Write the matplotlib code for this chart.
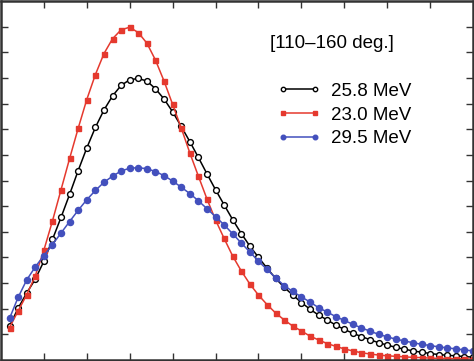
import matplotlib
matplotlib.use("Agg")
import matplotlib.pyplot as plt

plt.rcParams['font.family'] = ['Liberation Sans', 'DejaVu Sans']

# -----------------------
# data (arbitrary units, one y unit = one tick step)
# -----------------------
x = [0.2, 0.4, 0.6, 0.8, 1.0, 1.2, 1.4, 1.6, 1.8, 2.0,
     2.2, 2.4, 2.6, 2.8, 3.0, 3.2, 3.4, 3.6, 3.8, 4.0,
     4.2, 4.4, 4.6, 4.8, 5.0, 5.2, 5.4, 5.6, 5.8, 6.0,
     6.2, 6.4, 6.6, 6.8, 7.0, 7.2, 7.4, 7.6, 7.8, 8.0,
     8.2, 8.4, 8.6, 8.8, 9.0, 9.2, 9.4, 9.6, 9.8, 10.0,
     10.2, 10.4, 10.6, 10.8, 11.0]

e258 = [1.32, 2.02, 2.61, 3.15, 3.85, 4.70, 5.56, 6.46, 7.39, 8.27,
        9.07, 9.75, 10.30, 10.71, 10.93, 10.98, 10.88, 10.58, 10.18, 9.68,
        9.11, 8.52, 7.90, 7.26, 6.64, 6.05, 5.47, 4.93, 4.44, 4.00,
        3.58, 3.18, 2.83, 2.53, 2.24, 1.98, 1.75, 1.56, 1.36, 1.19,
        1.04, 0.91, 0.79, 0.67, 0.58, 0.49, 0.42, 0.35, 0.30, 0.25,
        0.21, 0.18, 0.16, 0.13, 0.11]

e230 = [1.26, 1.91, 2.54, 3.28, 4.28, 5.42, 6.64, 7.86, 9.04, 10.16,
        11.13, 11.95, 12.53, 12.88, 12.98, 12.77, 12.36, 11.70, 10.88, 9.97,
        9.05, 8.08, 7.17, 6.28, 5.46, 4.74, 4.05, 3.47, 2.96, 2.53,
        2.16, 1.83, 1.56, 1.32, 1.13, 0.93, 0.78, 0.64, 0.53, 0.43,
        0.35, 0.28, 0.23, 0.19, 0.16, 0.14, 0.12, 0.10, 0.09, 0.07,
        0.06, 0.05, 0.05, 0.04, 0.03]

e295 = [1.62, 2.44, 3.12, 3.63, 4.07, 4.50, 4.95, 5.40, 5.84, 6.25,
        6.61, 6.93, 7.17, 7.37, 7.48, 7.50, 7.46, 7.35, 7.19, 6.98,
        6.74, 6.49, 6.21, 5.90, 5.59, 5.27, 4.92, 4.56, 4.21, 3.85,
        3.53, 3.20, 2.90, 2.67, 2.46, 2.26, 2.04, 1.87, 1.69, 1.54,
        1.39, 1.25, 1.12, 1.00, 0.90, 0.81, 0.74, 0.67, 0.61, 0.56,
        0.51, 0.47, 0.43, 0.39, 0.35]

labels = ["25.8 MeV", "23.0 MeV", "29.5 MeV"]
title = "[110\u2013160 deg.]"

# -----------------------
# plot
# -----------------------
fig = plt.figure(figsize=(4.74, 3.61), dpi=100)
ax = fig.add_axes([0.002, 0.003, 0.996, 0.994])

ax.plot(x, e258, '-o', color='black', lw=1.1, ms=4.2,
        mfc='white', mec='black', mew=1.0, label=labels[0])
ax.plot(x, e230, '-s', color='#e5392e', lw=1.1, ms=3.6,
        mec='#e5392e', label=labels[1])
ax.plot(x, e295, '-o', color='#4350bd', lw=1.1, ms=4.4,
        mec='#4350bd', label=labels[2])

ax.set_xlim(0, 11)
ax.set_ylim(0, 14)
ax.set_xticks(range(1, 11))
ax.set_yticks(range(1, 14))
ax.tick_params(direction='in', length=5, width=1, color='#333333',
               top=True, right=True,
               labelbottom=False, labelleft=False)
for sp in ax.spines.values():
    sp.set_linewidth(1.8)
    sp.set_color('#333333')

ax.text(270 / 474, 1 - 43 / 361, title, transform=ax.transAxes,
        ha='left', va='center', fontsize=13.5)

ax.legend(loc='upper left', bbox_to_anchor=(278 / 474, 1 - 82 / 361),
          frameon=False, fontsize=13.5, numpoints=2, handlelength=2.3,
          handletextpad=0.55, labelspacing=0.36, borderpad=0,
          borderaxespad=0, markerscale=0.75)

plt.savefig("out.png", dpi=100)
plt.close()
